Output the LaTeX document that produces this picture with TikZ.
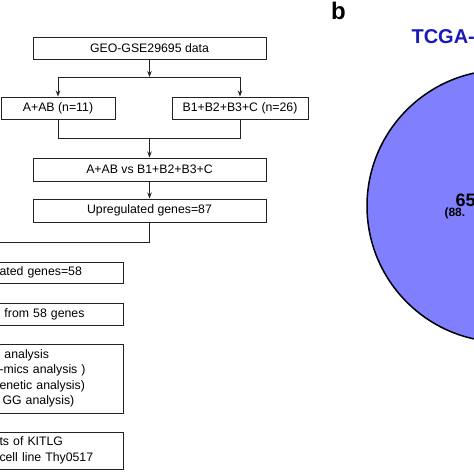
\documentclass[tikz,border=0pt]{standalone}
\usepackage{fontspec}
\setmainfont{Liberation Sans}
\usepackage{xcolor}
\usepackage{tikz}
\usetikzlibrary{arrows.meta,positioning}
\definecolor{frameC}{HTML}{222222}
\definecolor{setA}{HTML}{8080FF}
\definecolor{tcgaC}{HTML}{1A1AB8}

\begin{document}
\begin{tikzpicture}[x=1pt,y=-1pt,
  flow/.style={draw=frameC,line width=1pt,rectangle,inner sep=0pt,minimum height=22pt,font=\fontsize{12.3}{15.4}\selectfont},
  cutbox/.style={flow,anchor=east,align=left,text width=114pt,inner xsep=10pt},
  arr/.style={-{Stealth[length=6pt,width=4.5pt]},line width=1pt,draw=frameC},
  wire/.style={line width=1pt,draw=frameC}]
\useasboundingbox (0,0) rectangle (474,474);
\clip (0,0) rectangle (474,474);
% panel a: flow chart
\node[flow,minimum width=233pt] (geo) at (149.5,48) {GEO-GSE29695 data};
\node[flow,minimum width=114pt] (aab) at (58,108) {A+AB (n=11)};
\node[flow,minimum width=136pt] (bbc) at (240,108) {B1+B2+B3+C (n=26)};
\node[flow,minimum width=233pt,minimum height=23pt] (cmp) at (149.5,169.5) {A+AB vs B1+B2+B3+C};
\node[flow,minimum width=233pt,minimum height=23pt] (up) at (149.5,210.5) {Upregulated genes=87};
\node[cutbox,minimum height=21pt] (g58) at (124,272.5) {ated genes=58};
\node[cutbox,minimum height=22pt] (sel) at (124,314) {\hspace*{5pt}from 58 genes};
\node[cutbox,minimum height=69pt] (ana) at (124,378.5)
  {\hspace*{5pt}analysis\\-mics analysis )\\enetic analysis)\\\hspace*{3pt}GG analysis)};
\node[cutbox,minimum height=37pt] (kit) at (124,450.5) {ts of KITLG\\cell line Thy0517};
% connectors
\coordinate (split) at (149.5,77);
\coordinate (join) at (149.5,138);
\coordinate (exit) at (-5,242);
\draw[arr] (geo) -- (split);
\draw[arr] (split) -| (aab);
\draw[arr] (split) -| (bbc);
\draw[wire] (aab) |- (join);
\draw[wire] (bbc) |- (join);
\draw[arr] (join) -- (cmp);
\draw[arr] (cmp) -- (up);
\draw[wire] (up) |- (exit);
% panel b: venn
\node[font=\fontsize{24}{24}\selectfont\bfseries] (tagb) at (338.5,11) {b};
\node[anchor=base west,font=\fontsize{20}{20}\selectfont\bfseries,text=tcgaC] (tcga) at (408,43) {TCGA-T};
\node[circle,draw=black,line width=1.5pt,fill=setA,minimum size=272pt,inner sep=0pt] (vennA) at (503,206) {};
\node[anchor=base west,font=\fontsize{18}{18}\selectfont\bfseries] (cnt) at (452,206) {65};
\node[anchor=base west,font=\fontsize{12}{12}\selectfont\bfseries] (pct) at (441,216.5) {(88.};
\end{tikzpicture}
\end{document}
